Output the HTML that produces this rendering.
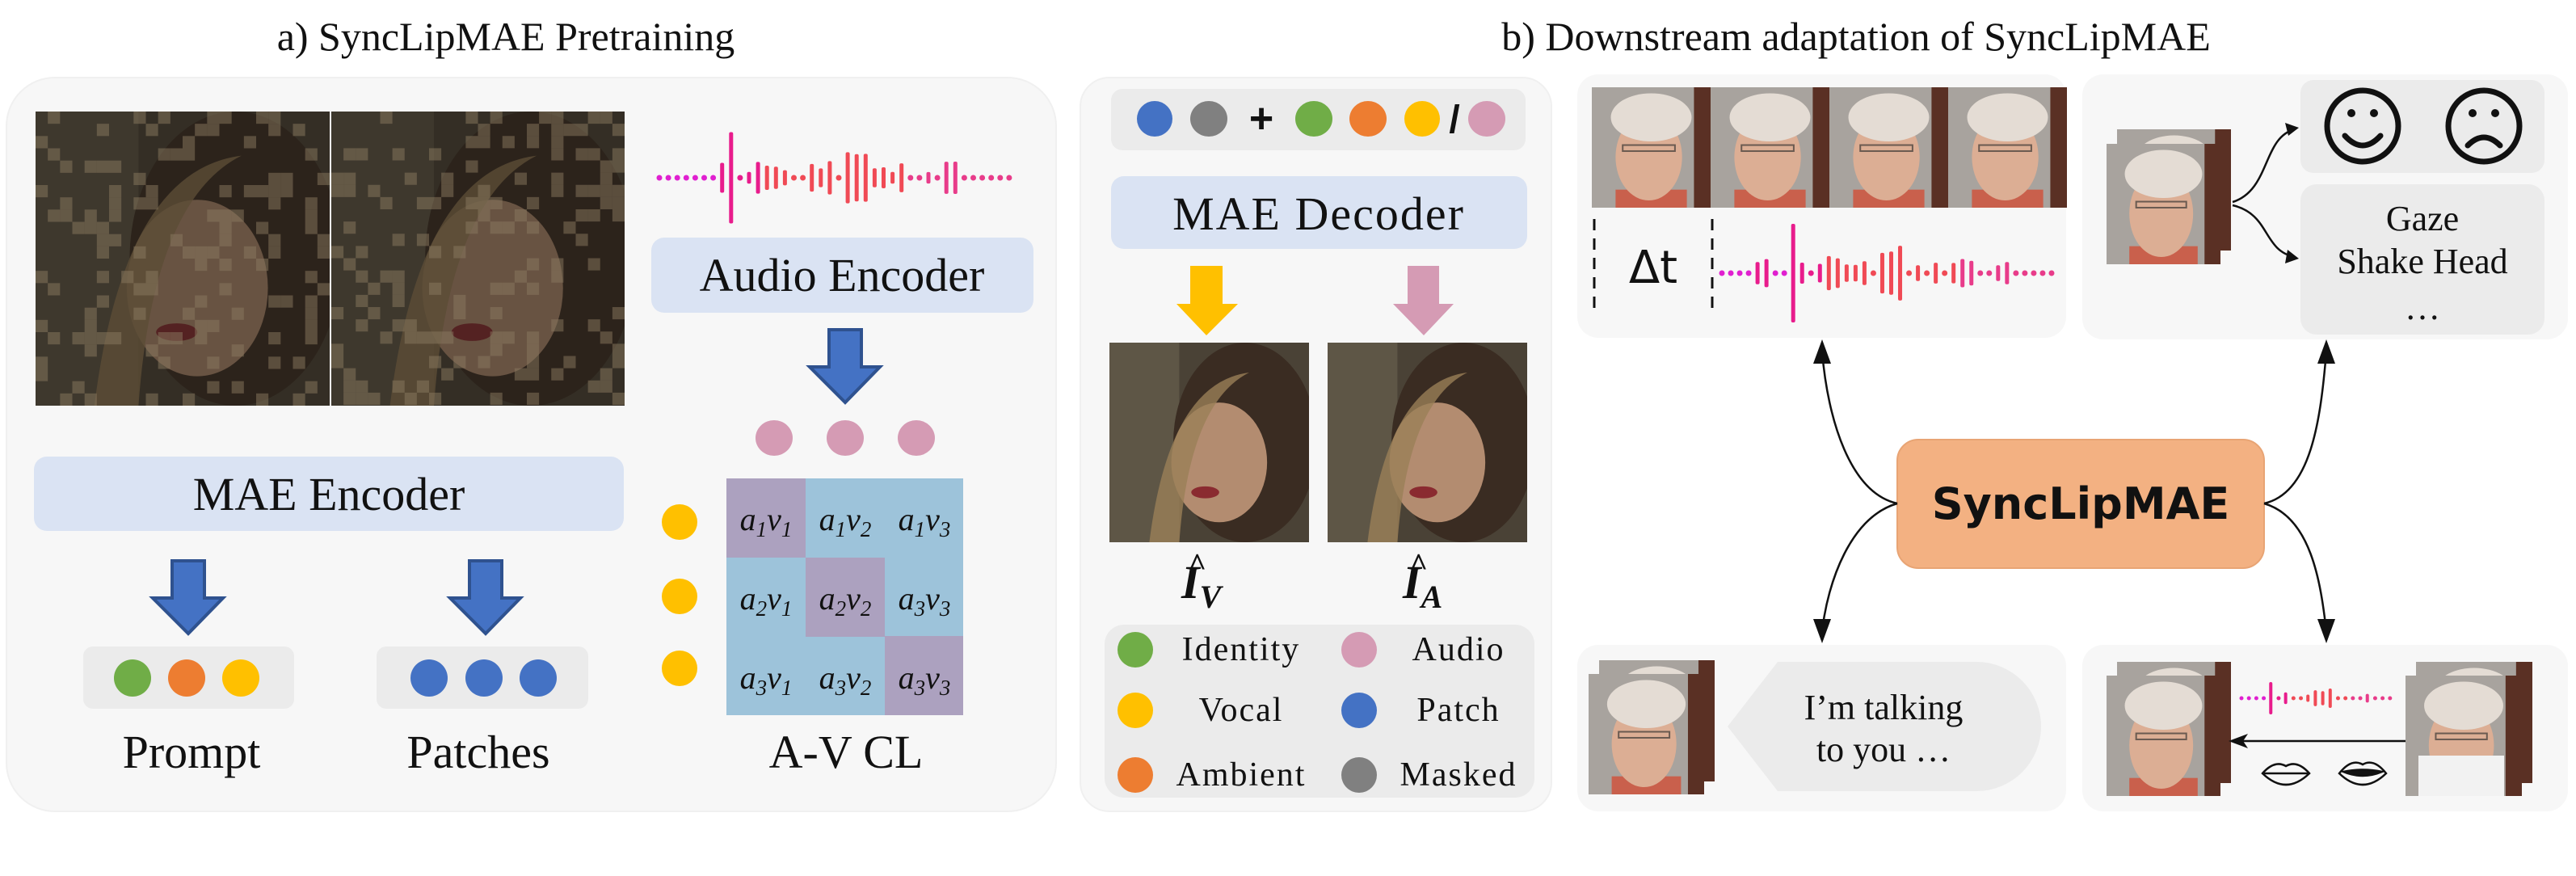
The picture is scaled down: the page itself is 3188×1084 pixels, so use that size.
<!DOCTYPE html>
<html><head><meta charset="utf-8">
<style>
html,body{margin:0;padding:0;background:#fff;}
body{width:3188px;height:1084px;overflow:hidden;}
svg{display:block;}
</style></head>
<body>
<svg id="s" width="3188" height="1084" viewBox="0 0 3188 1084" xmlns="http://www.w3.org/2000/svg">
<defs id="defs"></defs>

<!-- Titles -->
<text x="626" y="62" text-anchor="middle" font-family="Liberation Serif, serif" font-size="50" fill="#111">a) SyncLipMAE Pretraining</text>
<text x="2297" y="62" text-anchor="middle" font-family="Liberation Serif, serif" font-size="50" fill="#111">b) Downstream adaptation of SyncLipMAE</text>

<!-- Left panel -->
<rect x="8" y="96" width="1299" height="908" rx="60" fill="#f7f7f7" stroke="#f0f0f0" stroke-width="2"/>
<g id="maskimgs"></g>
<g id="wave1"></g>
<rect x="806" y="294" width="473" height="93" rx="16" fill="#dae3f3"/>
<text x="1042" y="360" text-anchor="middle" font-family="Liberation Serif, serif" font-size="58" fill="#111">Audio Encoder</text>

<g fill="#4472c4" stroke="#2f528f" stroke-width="4" stroke-linejoin="miter">
<path d="M1026 408 H1066 V454 H1089 L1046 498 L1002 454 H1026 Z"/>
<path d="M213 694 H253 V740 H276 L233 784 L189 740 H213 Z"/>
<path d="M581 694 H621 V740 H644 L601 784 L557 740 H581 Z"/>
</g>

<g fill="#d59bb4">
<ellipse cx="958" cy="542" rx="23" ry="22"/><ellipse cx="1046" cy="542" rx="23" ry="22"/><ellipse cx="1134" cy="542" rx="23" ry="22"/>
</g>
<rect x="899" y="592" width="293" height="293" fill="#9dc3da"/>
<rect x="899" y="592" width="98" height="98" fill="#aca1bf"/>
<rect x="997" y="690" width="98" height="98" fill="#aca1bf"/>
<rect x="1095" y="787" width="97" height="98" fill="#aca1bf"/>
<g fill="#ffc000">
<ellipse cx="841" cy="646" rx="22" ry="22"/><ellipse cx="841" cy="738" rx="22" ry="22"/><ellipse cx="841" cy="827" rx="22" ry="22"/>
</g>
<g font-family="Liberation Serif, serif" font-size="40" font-style="italic" fill="#111" text-anchor="middle">
<text x="948" y="656">a<tspan font-size="27" dy="8">1</tspan><tspan dy="-8">v</tspan><tspan font-size="27" dy="8">1</tspan></text>
<text x="1046" y="656">a<tspan font-size="27" dy="8">1</tspan><tspan dy="-8">v</tspan><tspan font-size="27" dy="8">2</tspan></text>
<text x="1144" y="656">a<tspan font-size="27" dy="8">1</tspan><tspan dy="-8">v</tspan><tspan font-size="27" dy="8">3</tspan></text>
<text x="948" y="754">a<tspan font-size="27" dy="8">2</tspan><tspan dy="-8">v</tspan><tspan font-size="27" dy="8">1</tspan></text>
<text x="1046" y="754">a<tspan font-size="27" dy="8">2</tspan><tspan dy="-8">v</tspan><tspan font-size="27" dy="8">2</tspan></text>
<text x="1144" y="754">a<tspan font-size="27" dy="8">3</tspan><tspan dy="-8">v</tspan><tspan font-size="27" dy="8">3</tspan></text>
<text x="948" y="852">a<tspan font-size="27" dy="8">3</tspan><tspan dy="-8">v</tspan><tspan font-size="27" dy="8">1</tspan></text>
<text x="1046" y="852">a<tspan font-size="27" dy="8">3</tspan><tspan dy="-8">v</tspan><tspan font-size="27" dy="8">2</tspan></text>
<text x="1144" y="852">a<tspan font-size="27" dy="8">3</tspan><tspan dy="-8">v</tspan><tspan font-size="27" dy="8">3</tspan></text>
</g>

<rect x="42" y="565" width="730" height="92" rx="16" fill="#dae3f3"/>
<text x="407" y="631" text-anchor="middle" font-family="Liberation Serif, serif" font-size="58" fill="#111">MAE Encoder</text>

<rect x="103" y="800" width="261" height="77" rx="12" fill="#ebebeb"/>
<ellipse cx="164" cy="839" rx="23" ry="23" fill="#70ad47"/>
<ellipse cx="231" cy="839" rx="23" ry="23" fill="#ed7d31"/>
<ellipse cx="298" cy="839" rx="23" ry="23" fill="#ffc000"/>
<rect x="466" y="800" width="262" height="77" rx="12" fill="#ebebeb"/>
<ellipse cx="531" cy="839" rx="23" ry="23" fill="#4472c4"/>
<ellipse cx="599" cy="839" rx="23" ry="23" fill="#4472c4"/>
<ellipse cx="666" cy="839" rx="23" ry="23" fill="#4472c4"/>
<g font-family="Liberation Serif, serif" font-size="58" fill="#111" text-anchor="middle">
<text x="237" y="950">Prompt</text>
<text x="592" y="950">Patches</text>
<text x="1047" y="950">A-V CL</text>
</g>

<!-- Middle panel -->
<rect x="1337" y="96" width="583" height="908" rx="36" fill="#f7f7f7" stroke="#f0f0f0" stroke-width="2"/>
<rect x="1375" y="110" width="513" height="76" rx="14" fill="#ebebeb"/>
<ellipse cx="1429" cy="147" rx="22" ry="22" fill="#4472c4"/>
<ellipse cx="1496" cy="147" rx="23" ry="22" fill="#808080"/>
<text x="1561" y="164" text-anchor="middle" font-family="Liberation Sans, sans-serif" font-weight="bold" font-size="52" fill="#111">+</text>
<ellipse cx="1626" cy="147" rx="23" ry="22" fill="#70ad47"/>
<ellipse cx="1693" cy="147" rx="23" ry="22" fill="#ed7d31"/>
<ellipse cx="1760" cy="147" rx="22" ry="22" fill="#ffc000"/>
<text x="1800" y="164" text-anchor="middle" font-family="Liberation Sans, sans-serif" font-weight="bold" font-size="48" fill="#111">/</text>
<ellipse cx="1840" cy="147" rx="23" ry="22" fill="#d59bb4"/>

<rect x="1375" y="218" width="515" height="90" rx="16" fill="#dae3f3"/>
<text x="1632" y="284" text-anchor="middle" font-family="Liberation Serif, serif" font-size="58" fill="#111" letter-spacing="2">MAE Decoder</text>
<path d="M1473 329 H1513 V376 H1532 L1493 415 L1456 376 H1473 Z" fill="#ffc000"/>
<path d="M1742 329 H1781 V376 H1799 L1762 415 L1724 376 H1742 Z" fill="#d59bb4"/>
<g id="ydec"></g>
<g font-family="Liberation Serif, serif" font-size="58" font-style="italic" font-weight="bold" fill="#111">
<text x="1462" y="740">I<tspan font-size="40" dy="12">V</tspan></text>
<text x="1736" y="740">I<tspan font-size="40" dy="12">A</tspan></text>
<text x="1470" y="712" font-style="normal" font-size="40">^</text>
<text x="1744" y="712" font-style="normal" font-size="40">^</text>
</g>
<rect x="1367" y="773" width="532" height="214" rx="24" fill="#ebebeb"/>
<ellipse cx="1405" cy="804" rx="22" ry="22" fill="#70ad47"/>
<ellipse cx="1405" cy="879" rx="22" ry="22" fill="#ffc000"/>
<ellipse cx="1405" cy="959" rx="22" ry="22" fill="#ed7d31"/>
<ellipse cx="1682" cy="804" rx="22" ry="22" fill="#d59bb4"/>
<ellipse cx="1682" cy="879" rx="22" ry="22" fill="#4472c4"/>
<ellipse cx="1682" cy="959" rx="22" ry="22" fill="#808080"/>
<g font-family="Liberation Serif, serif" font-size="42" fill="#111" text-anchor="middle" letter-spacing="2">
<text x="1536" y="817">Identity</text><text x="1536" y="892">Vocal</text><text x="1536" y="972">Ambient</text>
<text x="1805" y="817">Audio</text><text x="1805" y="892">Patch</text><text x="1805" y="972">Masked</text>
</g>

<!-- Right section panels -->
<rect x="1952" y="92" width="605" height="326" rx="26" fill="#f7f7f7"/>
<rect x="2577" y="92" width="601" height="328" rx="26" fill="#f7f7f7"/>
<rect x="1952" y="798" width="605" height="206" rx="26" fill="#f7f7f7"/>
<rect x="2577" y="798" width="601" height="206" rx="26" fill="#f7f7f7"/>
<g id="oldfaces"></g>
<g stroke="#111" stroke-width="3" stroke-dasharray="14 10">
<line x1="1973" y1="271" x2="1973" y2="386"/><line x1="2119" y1="271" x2="2119" y2="386"/>
</g>
<text x="2046" y="350" text-anchor="middle" font-family="DejaVu Sans, sans-serif" font-size="56" fill="#111">Δt</text>
<g id="wave2"></g>

<rect x="2847" y="99" width="302" height="115" rx="16" fill="#ebebeb"/>
<g fill="none" stroke="#111" stroke-width="7" stroke-linecap="round">
<circle cx="2924" cy="156" r="44"/><circle cx="3074" cy="156" r="44"/>
<path d="M2902 168 Q2924 192 2946 168"/><path d="M3054 180 Q3074 160 3094 180"/>
</g>
<g fill="#111"><circle cx="2910" cy="140" r="5"/><circle cx="2938" cy="140" r="5"/><circle cx="3060" cy="140" r="5"/><circle cx="3088" cy="140" r="5"/></g>
<rect x="2847" y="228" width="302" height="186" rx="20" fill="#ebebeb"/>
<g font-family="Liberation Serif, serif" font-size="44" fill="#111" text-anchor="middle">
<text x="2998" y="285">Gaze</text><text x="2998" y="338">Shake Head</text><text x="2998" y="395">…</text>
</g>
<g fill="none" stroke="#111" stroke-width="2.5">
<path d="M2763 250 C2810 235 2800 170 2840 160"/>
<path d="M2763 254 C2810 265 2800 310 2840 318"/>
</g>
<g fill="#111"><path d="M2845 158 L2828 152 L2832 168 Z"/><path d="M2845 320 L2831 309 L2828 326 Z"/></g>

<rect x="2348" y="544" width="454" height="159" rx="26" fill="#f3b182" stroke="#e8a474" stroke-width="2"/>
<text x="2575" y="642" text-anchor="middle" font-family="DejaVu Sans, Liberation Sans, sans-serif" font-weight="bold" font-size="54" fill="#111">SyncLipMAE</text>
<g fill="none" stroke="#111" stroke-width="2.5">
<path d="M2348 623 C2290 610 2262 520 2255 435"/>
<path d="M2348 623 C2290 640 2262 720 2255 781"/>
<path d="M2802 623 C2860 610 2872 520 2879 435"/>
<path d="M2802 623 C2860 640 2872 720 2879 781"/>
</g>
<g fill="#111">
<path d="M2255 420 L2244 450 L2266 450 Z"/><path d="M2255 796 L2244 766 L2266 766 Z"/>
<path d="M2879 420 L2868 450 L2890 450 Z"/><path d="M2879 796 L2868 766 L2890 766 Z"/>
</g>

<path d="M2200 819 H2446 A80 80 0 0 1 2446 979 H2200 L2138 899 Z" fill="#ebebeb"/>
<g font-family="Liberation Serif, serif" font-size="44" fill="#111" text-anchor="middle">
<text x="2331" y="890">I’m talking</text><text x="2331" y="942">to you …</text>
</g>

<g id="wave3"></g>
<line x1="2977" y1="917" x2="2770" y2="917" stroke="#111" stroke-width="2.5"/>
<path d="M2758 917 L2782 908 L2776 917 L2782 926 Z" fill="#111"/>
<g fill="none" stroke="#111" stroke-width="2.5">
<path d="M2800 957 Q2815 940 2829 948 Q2843 940 2858 957 Q2829 985 2800 957 Z"/>
<path d="M2802 957 H2856"/>
<path d="M2895 957 Q2910 938 2924 946 Q2938 938 2953 957 Q2924 985 2895 957 Z"/>
<path d="M2900 955 Q2924 965 2948 955 Q2924 950 2900 955 Z" fill="#111"/>
</g>
</svg>
<script>
var NS="http://www.w3.org/2000/svg";
function el(p,t,a){var e=document.createElementNS(NS,t);for(var k in a)e.setAttribute(k,a[k]);p.appendChild(e);return e;}
var seed=7;function rnd(){seed=(seed*9301+49297)%233280;return seed/233280;}
var defs=document.getElementById('defs');var cid=0;
function clipG(p,x,y,w,h){var id='c'+(cid++);var c=el(defs,'clipPath',{id:id});el(c,'rect',{x:x,y:y,width:w,height:h});return el(p,'g',{'clip-path':'url(#'+id+')'});}
function youngImg(p0,x,y,w,h,mask){
 var p=clipG(p0,x,y,w,h);
 el(p,'rect',{x:x,y:y,width:w,height:h,fill:'#4a4236'});
 el(p,'rect',{x:x,y:y,width:w*0.35,height:h,fill:'#5e5646'});
 el(p,'ellipse',{cx:x+w*0.68,cy:y+h*0.5,rx:w*0.36,ry:h*0.5,fill:'#3a2c22'});
 el(p,'ellipse',{cx:x+w*0.55,cy:y+h*0.6,rx:w*0.24,ry:h*0.3,fill:'#b38c70'});
 el(p,'ellipse',{cx:x+w*0.48,cy:y+h*0.75,rx:w*0.07,ry:h*0.03,fill:'#8a2b30'});
 el(p,'path',{d:'M'+(x+w*0.2)+' '+(y+h)+' Q'+(x+w*0.3)+' '+(y+h*0.2)+' '+(x+w*0.7)+' '+(y+h*0.15)+' Q'+(x+w*0.4)+' '+(y+h*0.3)+' '+(x+w*0.35)+' '+(y+h)+' Z',fill:'#9a8058',opacity:0.8});
 if(mask){
  el(p,'rect',{x:x,y:y,width:w,height:h,fill:'#1e1a14',opacity:0.5});
  var s=w/24;
  for(var i=0;i<24;i++)for(var j=0;j<Math.round(h/s);j++){if(rnd()<0.2)el(p,'rect',{x:x+i*s,y:y+j*s,width:s,height:s,fill:'#8a7a60',opacity:0.5});}
 }
}
var g=document.getElementById('maskimgs');
youngImg(g,44,138,364,364,true);youngImg(g,410,138,363,364,true);
var d=document.getElementById('ydec');
youngImg(d,1373,424,247,247,false);youngImg(d,1643,424,247,247,false);
function wave(id,x0,x1,cy,amp){
 var p=document.getElementById(id);var n=Math.round((x1-x0)/(amp>50?11:9));
 for(var i=0;i<n;i++){var t=i/n;var h=3;
  if(t>0.1&&t<0.85&&rnd()<0.45)h=amp*(0.12+0.25*rnd());
  if(Math.abs(t-0.2)<0.015)h=amp;
  if(t>0.45&&t<0.6&&rnd()<0.7)h=amp*(0.35+0.25*rnd());
  var x=x0+(x1-x0)*t;
  var col=t<0.3?'#e81c8c':(t<0.7?'#f04a55':'#e83c8a');
  if(h<=3)el(p,'circle',{cx:x,cy:cy,r:amp>50?3.5:2.5,fill:t<0.2?'#e020d0':col});
  else el(p,'rect',{x:x-2.5,y:cy-h/2,width:amp>50?5:4,height:h,rx:2,fill:col});
 }
}
wave('wave1',816,1260,220,113);
wave('wave2',2131,2550,338,122);
wave('wave3',2774,2967,864,40);
var o=document.getElementById('oldfaces');
function old(x,y,w,h,patch){
 var p=clipG(o,x,y,w,h);
 el(p,'rect',{x:x,y:y,width:w,height:h,fill:'#a8a39e'});
 el(p,'rect',{x:x+w*0.86,y:y,width:w*0.14,height:h,fill:'#5a3024'});
 el(p,'rect',{x:x+w*0.2,y:y+h*0.85,width:w*0.6,height:h*0.15,fill:'#c9604c'});
 el(p,'ellipse',{cx:x+w*0.48,cy:y+h*0.58,rx:w*0.28,ry:h*0.36,fill:'#dcae94'});
 el(p,'ellipse',{cx:x+w*0.5,cy:y+h*0.25,rx:w*0.34,ry:h*0.2,fill:'#e4dcd4'});
 el(p,'rect',{x:x+w*0.26,y:y+h*0.48,width:w*0.44,height:h*0.05,fill:'none',stroke:'#6a5a50','stroke-width':2});
 if(patch)el(p,'rect',{x:patch[0],y:patch[1],width:patch[2],height:patch[3],fill:'#f2f2f2'});
}
for(var k=0;k<4;k++)old(1970+k*147,108,147,149);
old(2620,160,141,150);old(2607,178,141,149);
old(1979,817,143,150);old(1966,834,143,149);
old(2620,819,141,150);old(2607,836,141,149);
old(2990,819,144,150);old(2977,836,144,149,[2993,935,106,50]);
</script>
</body></html>
